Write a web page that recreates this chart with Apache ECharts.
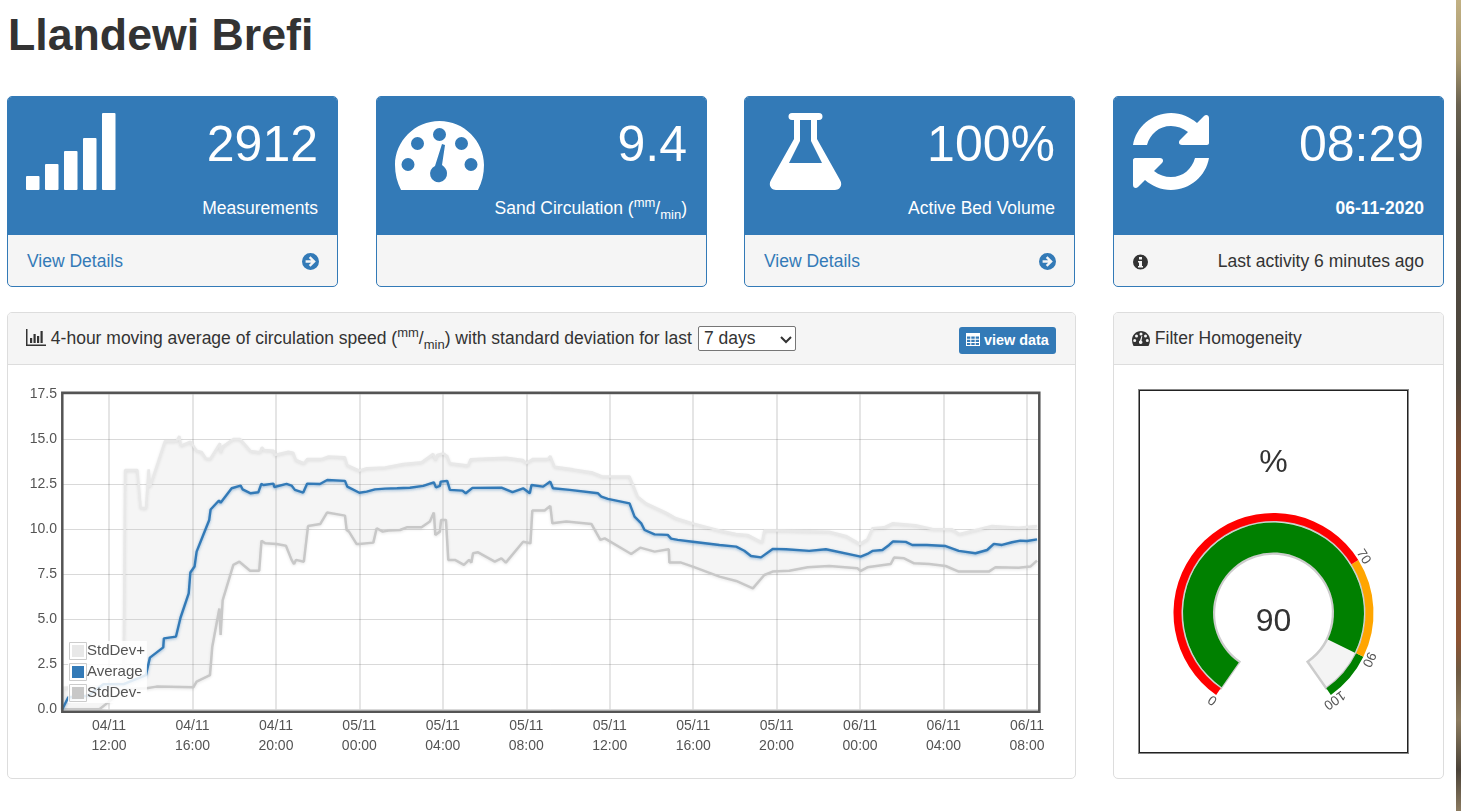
<!DOCTYPE html>
<html>
<head>
  <meta charset="utf-8">
  <title>Llandewi Brefi</title>
  <script src="https://cdn.jsdelivr.net/npm/echarts@6/dist/echarts.min.js"></script>
  <style>
    html, body { margin: 0; padding: 0; background: #fff; overflow: hidden; }
    body { width: 1461px; height: 811px; position: relative; color: #333; font: 17.5px "Liberation Sans", Arial, sans-serif; }
    #strip { position: absolute; left: 1456px; top: 0; width: 5px; height: 811px;
      background: linear-gradient(#c2b184 0, #a8986e 60px, #6a6250 105px, #514c42 160px, #4d463c 380px, #7d4c30 450px, #8d5332 640px, #6e5a42 672px, #8c7c60 720px, #4a4238 770px, #8a7a60 811px); }
    h1 { position: absolute; left: 8px; top: 10px; margin: 0; font-size: 44.7px; line-height: 50px; font-weight: bold; }
    .card { position: absolute; top: 96px; width: 329px; height: 189px; border: 1px solid #337ab7; border-radius: 5px; overflow: hidden; background: #f5f5f5; }
    .card .head { position: absolute; left: 0; top: 0; right: 0; height: 138px; background: #337ab7; color: #fff; }
    .card .big { position: absolute; right: 19px; top: 19px; font-size: 50px; line-height: 56px; }
    .card .sub { position: absolute; right: 19px; top: 99px; line-height: 25px; white-space: nowrap; }
    .card svg.icon { position: absolute; fill: #fff; }
    .foot { position: absolute; left: 19px; right: 19px; top: 152px; line-height: 25px; color: #337ab7; }
    .foot .r { position: absolute; right: 0; top: 0; }
    .foot svg { position: absolute; right: -1px; top: 4px; fill: #337ab7; }
    sup, sub { font-size: 13px; line-height: 0; }
    .panel { position: absolute; top: 312px; height: 465px; border: 1px solid #ddd; border-radius: 5px; background: #fff; overflow: hidden; }
    .panel .title { position: absolute; left: 0; right: 0; top: 0; height: 51px; background: #f5f5f5; border-bottom: 1px solid #ddd; line-height: 50px; white-space: nowrap; }
    .panel .title span.t { position: absolute; left: 18px; top: 0; }
    .panel svg { fill: #333; vertical-align: -2px; }
    select { position: absolute; left: 690px; top: 13px; width: 98px; height: 25px; font: 17.5px "Liberation Sans", Arial, sans-serif; color: #333; border: 1px solid #767676; border-radius: 2px; padding: 0 0 2px 5px; appearance: none; -webkit-appearance: none;
      background: #fff url("data:image/svg+xml,%3Csvg xmlns='http://www.w3.org/2000/svg' width='12' height='8'%3E%3Cpath d='M1 1l5 5l5-5' fill='none' stroke='%23333' stroke-width='2'/%3E%3C/svg%3E") no-repeat 81px 9px; }
    .btn { position: absolute; left: 951px; top: 14px; width: 97px; height: 27px; background: #337ab7; border-radius: 3px; color: #fff; font-size: 14.4px; font-weight: bold; line-height: 27px; text-align: center; }
    .btn svg { fill: #fff; vertical-align: -1px; }
    #main { position: absolute; left: 0; top: 52px; width: 1067px; height: 413px; }
    #gauge { position: absolute; left: 25px; top: 77px; width: 267px; height: 361px; border: 1px solid #222; outline: 1px solid #888; }
  </style>
</head>
<body>
  <div id="strip"></div>
  <h1>Llandewi Brefi</h1>

  <div class="card" style="left:7px">
    <div class="head">
      <svg class="icon" style="left:18px;top:16px" width="90" height="77" viewBox="0 0 90 77">
        <rect x="0" y="63" width="13.5" height="14" rx="1"/><rect x="19" y="51" width="13.5" height="26" rx="1"/><rect x="38" y="38" width="13.5" height="39" rx="1"/><rect x="57" y="25" width="13.5" height="52" rx="1"/><rect x="76" y="0" width="13.5" height="77" rx="1"/>
      </svg>
      <div class="big">2912</div>
      <div class="sub">Measurements</div>
    </div>
    <div class="foot">View Details<svg width="17" height="17" viewBox="0 0 17 17"><path fill-rule="evenodd" d="M8.5 0a8.5 8.5 0 1 0 0 17a8.5 8.5 0 1 0 0-17zM8.5 3.2l5.3 5.3l-5.3 5.3l-1.7-1.7l2.4-2.4H3.6V7.3h5.6L6.8 4.900z"/></svg></div>
  </div>

  <div class="card" style="left:376px">
    <div class="head">
      <svg class="icon" style="left:18px;top:24px" width="89" height="69" viewBox="0 0 89 69">
        <path fill-rule="evenodd" d="M44.500 0C20 0 0 20 0 44c0 9 2 17 6 25h77c4-8 6-16 6-25C89 20 69 0 44.500 0zM44.500 7a6.500 6.500 0 1 1 0 13a6.500 6.500 0 1 1 0-13zM22.500 16a6.500 6.500 0 1 1 0 13a6.500 6.500 0 1 1 0-13zM66.500 16a6.500 6.500 0 1 1 0 13a6.500 6.500 0 1 1 0-13zM13 37a6.500 6.500 0 1 1 0 13a6.500 6.500 0 1 1 0-13zM76 37a6.500 6.500 0 1 1 0 13a6.500 6.500 0 1 1 0-13zM47 23l3 1l-3 20c3 2 5 5 5 8a8.500 8.500 0 1 1-12-7z"/>
      </svg>
      <div class="big">9.4</div>
      <div class="sub">Sand Circulation (<sup>mm</sup>/<sub>min</sub>)</div>
    </div>
  </div>

  <div class="card" style="left:744px">
    <div class="head">
      <svg class="icon" style="left:24px;top:16px" width="73" height="77" viewBox="0 0 73 77">
        <path fill-rule="evenodd" d="M23 0h27a3 3 0 0 1 0 7h-2v19l23 41c3 5 0 10-5 10H7c-5 0-8-5-5-10l23-41V7h-2a3 3 0 0 1 0-7zM31 7v21L20 50h33L42 28V7z"/>
      </svg>
      <div class="big">100%</div>
      <div class="sub">Active Bed Volume</div>
    </div>
    <div class="foot">View Details<svg width="17" height="17" viewBox="0 0 17 17"><path fill-rule="evenodd" d="M8.5 0a8.5 8.5 0 1 0 0 17a8.5 8.5 0 1 0 0-17zM8.5 3.2l5.3 5.3l-5.3 5.3l-1.7-1.7l2.400-2.400H3.600V7.300h5.600L6.800 4.900z"/></svg></div>
  </div>

  <div class="card" style="left:1113px">
    <div class="head">
      <svg class="icon" style="left:18px;top:16px" width="78" height="77" viewBox="0 0 78 77">
        <path d="M39 0c10 0 19 4 26 10l7-7c2-2 5-1 5 2v25c0 1-1 2-2 2H50c-3 0-4-3-2-5l8-8c-5-4-11-6-17-6c-12 0-21 8-24 19H1C4 14 20 0 39 0z"/>
        <path d="M39 77c-10 0-19-4-26-10l-7 7c-2 2-5 1-5-2V47c0-1 1-2 2-2h25c3 0 4 3 2 5l-8 8c5 4 11 6 17 6c12 0 21-8 24-19h14C74 63 58 77 39 77z"/>
      </svg>
      <div class="big">08:29</div>
      <div class="sub" style="font-weight:bold">06-11-2020</div>
    </div>
    <div class="foot" style="color:#333">
      <svg style="left:0;right:auto;top:5px;fill:#333" width="15" height="16" viewBox="0 0 15 16"><path fill-rule="evenodd" d="M7.500 0.500a7.500 7.500 0 1 0 0 15a7.500 7.500 0 1 0 0-15zM6 3h3v2.500H6zM5 7h4v5h1v1.500H5V12h1V8.500H5z"/></svg>
      <span class="r">Last activity 6 minutes ago</span>
    </div>
  </div>

  <div class="panel" style="left:7px;width:1067px">
    <div class="title">
      <span class="t"><svg width="20" height="17" viewBox="0 0 20 17"><path d="M0 0h1.500v15.500H20V17H0zM4 9h2.200v5H4zM7.500 5h2.200v9H7.500zM11 7h2.200v7H11zM14.500 2h2.200v12h-2.200z"/></svg> 4-hour moving average of circulation speed (<sup>mm</sup>/<sub>min</sub>) with standard deviation for last</span>
      <select><option>7 days</option></select>
      <div class="btn"><svg width="14" height="13" viewBox="0 0 14 13"><path fill-rule="evenodd" d="M0 0h14v13H0zM1 3.500v2.300h3.300V3.500zM5.300 3.500v2.300h3.400V3.500zM9.700 3.500v2.300H13V3.500zM1 6.800v2.200h3.300V6.800zM5.300 6.800v2.200h3.400V6.800zM9.700 6.800v2.200H13V6.800zM1 10v2h3.300v-2zM5.300 10v2h3.400v-2zM9.700 10v2H13v-2z"/></svg> view data</div>
    </div>
    <div id="main"></div>
  </div>

  <div class="panel" style="left:1113px;width:329px">
    <div class="title">
      <span class="t"><svg width="18" height="15" viewBox="0 0 18 15"><path fill-rule="evenodd" d="M9 0C4 0 0 4 0 9c0 2 .5 4 1.500 6h15c1-2 1.500-4 1.500-6C18 4 14 0 9 0zM9 1.500a1.500 1.500 0 1 1 0 3a1.500 1.500 0 1 1 0-3zM4.500 3.500a1.500 1.500 0 1 1 0 3a1.500 1.500 0 1 1 0-3zM13.500 3.500a1.500 1.500 0 1 1 0 3a1.500 1.500 0 1 1 0-3zM2.700 8a1.500 1.500 0 1 1 0 3a1.500 1.500 0 1 1 0-3zM15.300 8a1.500 1.500 0 1 1 0 3a1.500 1.500 0 1 1 0-3zM9.500 5l.8.200-.8 4.500c.8.500 1 1 1 1.600a1.800 1.800 0 1 1-2.500-1.700z"/></svg> Filter Homogeneity</span>
    </div>
    <div id="gauge"></div>
  </div>

  <script type="text/javascript">
    // hours counted from 2020-11-04 00:00, value in mm/min
    const avgHours = [9.76,10.05,11.0,11.73,12.7,13.77,13.96,14.6,14.63,15.21,15.43,15.82,15.9,16.1,16.2,16.55,16.8,16.87,17.27,17.35,17.88,18.31,18.4,18.79,19.16,19.3,19.4,19.88,19.92,20.51,20.75,20.91,21.31,21.5,22.11,22.46,23.31,23.42,24,24.35,24.75,25.23,25.8,26.42,27.06,27.57,27.67,27.86,27.9,28.21,28.34,28.94,29.1,29.42,30.81,31.34,31.85,32.17,32.25,32.81,33.15,33.28,34.08,35.44,35.6,35.91,36.95,37.19,37.51,37.67,38.15,38.78,38.94,39.26,39.98,41.26,42.06,42.45,42.77,43.25,43.81,44.45,45.56,46.36,48.03,48.35,48.59,49.07,49.39,49.58,50.19,50.5,51.2,52.1,52.73,53.53,54.09,54.41,54.8,55.28,55.68,56,56.48];
    const avgValues = [0,0.67,0.75,1.4,1.4,1.9,2.87,3.44,3.94,4.04,5.1,6.44,7.6,7.93,8.76,9.78,10.5,11.1,11.6,11.48,12.28,12.43,12.22,12,12.06,12.52,12.46,12.54,12.35,12.52,12.43,12.19,12.04,12.54,12.52,12.74,12.69,12.37,12.03,12.09,12.22,12.26,12.28,12.31,12.41,12.61,12.33,12.41,12.65,12.69,12.19,12.15,12,12.3,12.31,12.06,12.28,12,12.46,12.37,12.65,12.28,12.19,12,11.81,11.69,11.44,10.7,10.33,9.96,9.72,9.69,9.48,9.41,9.31,9.13,9.04,8.81,8.52,8.44,8.91,8.89,8.8,8.89,8.48,8.63,8.8,8.85,9.13,9.33,9.3,9.13,9.13,9.07,8.8,8.67,8.85,9.19,9.13,9.28,9.37,9.35,9.44];

    const upperHours = [9.76,9.81,11.7,12.7,12.77,13.36,13.52,13.77,13.9,13.96,14.68,15.24,15.37,15.45,15.91,16.2,16.44,16.65,16.84,17.32,17.35,17.45,17.96,18.28,18.79,19.24,19.33,19.43,19.9,19.94,20.6,20.83,20.96,21.34,21.5,22.18,22.5,23.31,23.42,24,24.35,25.23,26.1,26.98,27.54,27.65,27.73,28.02,28.21,28.34,29.21,29.33,30.09,31.05,31.85,32,32.32,33.04,33.15,33.36,34.24,35.19,35.67,36.95,37.35,37.75,38.7,39.18,39.98,41.26,42.06,42.61,43.3,43.41,44.05,46.52,47.32,47.99,48.35,48.59,49.15,49.55,50.66,51.46,52.41,52.76,53.69,54.33,55.6,56.48];
    const upperValues = [0,1.2,1.3,1.5,13.3,13.3,11.2,11.17,13.33,12.37,14.9,14.9,15.18,14.65,14.87,14.37,14.3,13.94,13.9,14.78,14.26,14.6,15.02,15.02,14.35,14.28,14.56,14.4,14.37,14.13,14.31,14.26,13.85,13.67,13.9,13.9,14.04,14,13.57,13.26,13.39,13.44,13.63,13.72,14.19,13.85,14.13,14.22,14.07,13.67,13.54,13.89,13.94,13.98,13.85,13.67,13.91,13.91,14.07,13.48,13.33,13.15,12.93,12.93,11.81,11.44,10.93,10.61,10.33,9.93,9.74,9.69,9.28,9.93,9.93,9.87,9.63,9.19,9.44,10.06,10.11,10.33,10.22,10.02,10,9.74,10,10.19,10.09,10.19];

    const lowerHours = [9.76,11.54,11.9,12.7,13.8,14.28,16.04,16.2,16.84,16.95,17.29,17.35,17.45,17.96,18.25,18.76,19.2,19.31,19.48,20.03,20.48,20.75,20.87,20.96,21.34,21.54,22.13,22.45,23.31,23.39,23.5,23.87,24,24.67,24.83,25.12,25.4,25.95,26.27,26.98,27.38,27.57,27.64,27.86,27.92,28.15,28.26,28.58,29.01,29.26,29.37,29.45,29.69,30.49,30.81,31.02,31.85,32.2,32.29,32.88,33.15,33.25,33.92,35.12,35.55,35.76,37.03,37.46,38.15,38.83,38.86,39.42,39.98,41.26,42.06,42.86,43.41,43.81,44.61,45.49,46.52,47.87,48.03,48.35,49.47,49.63,50.11,50.59,51.31,52.1,52.73,54.17,54.49,55.6,56.16,56.48];
    const lowerValues = [0,0,0.33,1.1,1.17,1.26,1.22,1.54,1.9,3.48,5.6,4.13,6.07,8.02,8.2,7.7,7.7,9.37,9.22,9.18,9.09,8.3,8.07,8.3,8.2,10.18,10.3,10.93,10.76,9.96,9.87,9.18,9.18,9.26,10.06,9.87,9.93,9.96,10.11,10.11,10.43,10.93,9.69,9.87,10.52,10.52,8.3,8.3,8.02,8.3,8.15,8.67,8.72,8.2,8.39,8.15,9.31,9.22,11.04,11.04,11.3,10.33,10.43,10.3,9.41,9.5,8.63,8.98,8.76,8.89,8.15,8.15,7.93,7.37,7.13,6.72,7.46,7.65,7.7,7.89,7.96,7.83,7.69,7.89,8.07,8.43,8.39,8.11,8.07,7.96,7.65,7.65,7.89,7.87,7.93,8.26];

    const tickHours = [12,16,20,24,28,32,36,40,44,48,52,56];
    const tickLabels = ['04/11\n12:00','04/11\n16:00','04/11\n20:00','05/11\n00:00','05/11\n04:00','05/11\n08:00','05/11\n12:00','05/11\n16:00','05/11\n20:00','06/11\n00:00','06/11\n04:00','06/11\n08:00'];

    const gaugeValue = 90;
    const gaugeLabels = [0, 70, 90, 100];

    const FONT = '"Liberation Sans", Arial, sans-serif';

    function pairs(xs, ys) {
      return xs.map(function (x, i) { return [x, ys[i]]; });
    }

    function lineSeries(name, xs, ys, color, width, z, shadow) {
      return {
        name: name, type: 'line', data: pairs(xs, ys), showSymbol: false, symbol: 'none', z: z,
        animation: false, itemStyle: { color: color },
        lineStyle: { color: color, width: width, shadowColor: shadow, shadowBlur: 3, shadowOffsetY: 1 }
      };
    }

    function renderBand(params, api) {
      const top = pairs(upperHours, upperValues);
      const bottom = pairs(lowerHours, lowerValues).reverse();
      const pts = top.concat(bottom).map(function (p) { return api.coord(p); });
      return { type: 'polygon', shape: { points: pts }, style: { fill: 'rgba(190,190,190,0.15)' } };
    }

    // little frames around the legend swatches
    function legendFrame(y) {
      return { type: 'rect', z: 100, silent: true, shape: { x: 61.5, y: y, width: 17, height: 17 }, style: { fill: 'none', stroke: '#ccc', lineWidth: 1 } };
    }

    function init_chart() {
      const chart = echarts.init(document.getElementById('main'));
      chart.setOption({
        animation: false,
        textStyle: { fontFamily: FONT },
        // the plot sits a little inside its frame, so the frame is drawn apart
        grid: { left: 54, top: 29.3, width: 977, height: 315 },
        xAxis: {
          type: 'value', min: 9.747, max: 56.575,
          axisLine: { show: false },
          axisTick: { show: false, customValues: tickHours },
          splitLine: { show: true, lineStyle: { color: 'rgba(84,84,84,0.2)', width: 1.5 } },
          axisLabel: {
            customValues: tickHours, color: '#545454', fontSize: 14, lineHeight: 20, margin: 7, hideOverlap: false,
            formatter: function (v) { return tickLabels[tickHours.indexOf(v)]; }
          }
        },
        yAxis: {
          type: 'value', min: 0, max: 17.5, interval: 2.5,
          axisLine: { show: false }, axisTick: { show: false },
          splitLine: { lineStyle: { color: 'rgba(84,84,84,0.22)', width: 1 } },
          axisLabel: { color: '#545454', fontSize: 14, margin: 5, padding: [2, 0, 0, 0], formatter: function (v) { return v.toFixed(1); } }
        },
        legend: {
          left: 60, top: 276, orient: 'vertical', icon: 'rect', itemWidth: 12, itemHeight: 12, itemGap: 5,
          padding: [2, 2, 2, 4], backgroundColor: 'rgba(255,255,255,0.85)', selectedMode: false,
          textStyle: { color: '#545454', fontSize: 15, padding: [0, 0, 0, -2], lineHeight: 16 },
          data: ['StdDev+', 'Average', 'StdDev-']
        },
        graphic: [
          legendFrame(277.5), legendFrame(298.5), legendFrame(319.5),
          { type: 'rect', z: 90, silent: true, shape: { x: 54.3, y: 27.7, width: 977, height: 319 }, style: { fill: 'none', stroke: '#545454', lineWidth: 2.5 } }
        ],
        series: [
          { type: 'custom', coordinateSystem: 'cartesian2d', data: [[9.75, 0]], renderItem: renderBand, silent: true, z: 1, clip: true, animation: false },
          lineSeries('StdDev+', upperHours, upperValues, '#e8e8e8', 2.5, 2, 'rgba(0,0,0,0.1)'),
          lineSeries('StdDev-', lowerHours, lowerValues, '#c8c8c8', 2.5, 2, 'rgba(0,0,0,0.1)'),
          lineSeries('Average', avgHours, avgValues, '#337ab7', 2.4, 3, 'rgba(51,122,183,0.5)')
        ]
      });
      return chart;
    }

    function init_gauge() {
      const chart = echarts.init(document.getElementById('gauge'));
      const base = { type: 'gauge', center: [133.5, 222], startAngle: 235, endAngle: -55, min: 0, max: 100, animation: false,
        pointer: { show: false }, axisTick: { show: false }, splitLine: { show: false }, axisLabel: { show: false },
        title: { show: false }, detail: { show: false } };
      chart.setOption({
        animation: false,
        textStyle: { fontFamily: FONT },
        series: [
          // grey track
          Object.assign({}, base, {
            radius: 92, axisLine: { show: false },
            progress: { show: true, width: 32.5, itemStyle: { color: '#f4f4f4', borderColor: '#ccc', borderWidth: 2.5 } },
            data: [{ value: 100 }]
          }),
          // value bar
          Object.assign({}, base, {
            radius: 90.5, axisLine: { show: false },
            progress: { show: true, width: 30, itemStyle: { color: '#008000' } },
            title: { show: true, offsetCenter: [0, -150], color: '#333', fontSize: 32 },
            detail: { show: true, offsetCenter: [0, 9], color: '#333', fontSize: 32, fontWeight: 'normal', valueAnimation: false, formatter: '{value}' },
            data: [{ value: gaugeValue, name: '%' }]
          }),
          // outer ring with the three colour ranges and tick labels
          Object.assign({}, base, {
            radius: 100, splitNumber: 10, z: 5,
            axisLine: { lineStyle: { width: 8, color: [[0.7, '#ff0000'], [0.9, '#ffa500'], [1, '#008000']] } },
            axisLabel: {
              show: true, distance: -26, rotate: 'tangential', color: '#555', fontSize: 13.5,
              formatter: function (v) { return gaugeLabels.indexOf(v) >= 0 ? String(v) : ''; }
            },
            data: [{ value: gaugeValue }]
          })
        ]
      });
      return chart;
    }

    init_chart();
    init_gauge();
  </script>
</body>
</html>
